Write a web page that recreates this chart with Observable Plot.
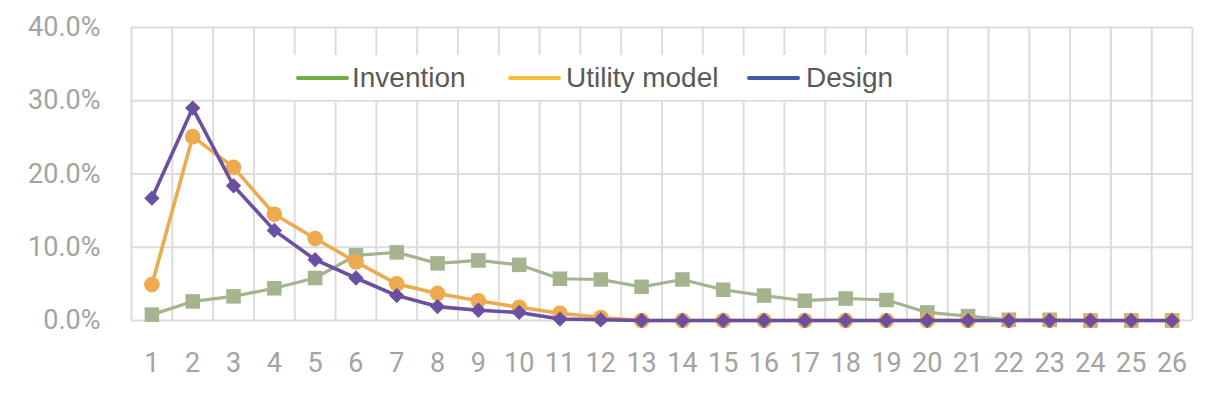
<!DOCTYPE html>
<html>
<head>
<meta charset="utf-8">
<script src="https://cdn.jsdelivr.net/npm/d3@7"></script>
<script src="https://cdn.jsdelivr.net/npm/@observablehq/plot@0.6"></script>
<style>
  html, body { margin: 0; padding: 0; background: #fff; }
  #wrap { position: relative; width: 1230px; height: 394px; overflow: hidden; }
  #legend { position: absolute; left: 290px; top: 55px; width: 628px; height: 45px; background: #fff;
            font-family: "Liberation Sans", Arial, sans-serif; font-size: 28px; color: #595959; }
  #legend .sw { position: absolute; top: 21px; height: 4px; border-radius: 2px; }
  #legend .lab { position: absolute; top: 0; line-height: 45px; white-space: nowrap; }
</style>
</head>
<body>
<div id="wrap"></div>
<script>
// ---- data (as fractions) ----
const categories = [1, 2, 3, 4, 5, 6, 7, 8, 9, 10, 11, 12, 13, 14, 15, 16, 17, 18, 19, 20, 21, 22, 23, 24, 25, 26];
const invention = [0.008, 0.026, 0.033, 0.044, 0.058, 0.089, 0.093, 0.078, 0.082, 0.076, 0.057, 0.056, 0.046, 0.056, 0.042, 0.034, 0.027, 0.030, 0.028, 0.011, 0.006, 0.001, 0.001, 0.000, 0.000, 0.000];
const utilityModel = [0.049, 0.251, 0.209, 0.145, 0.112, 0.080, 0.050, 0.037, 0.027, 0.018, 0.010, 0.004, 0.000, 0.000, 0.000, 0.000, 0.000, 0.000, 0.000, 0.000, 0.000, 0.000, 0.000, 0.000, 0.000, 0.000];
const design = [0.167, 0.290, 0.184, 0.123, 0.083, 0.058, 0.034, 0.019, 0.014, 0.011, 0.002, 0.001, 0.000, 0.000, 0.000, 0.000, 0.000, 0.000, 0.000, 0.000, 0.000, 0.000, 0.000, 0.000, 0.000, 0.000];
const yTicks = [0, 0.1, 0.2, 0.3, 0.4];
const seriesNames = ["Invention", "Utility model", "Design"];
const lineColors = ["#a3b48e", "#eeaa4e", "#6a4fa3"];
const legendColors = ["#70ad47", "#f5bd3c", "#3d5aa6"];

const rows = (vals) => categories.map((c, i) => ({ x: c, y: vals[i] }));
const edges = categories.map(c => c - 0.5).concat([categories[categories.length - 1] + 0.5]);

const chart = Plot.plot({
  width: 1230,
  height: 394,
  marginLeft: 131,
  marginRight: 38,
  marginTop: 27,
  marginBottom: 74,
  style: { fontFamily: "Roboto, 'Open Sans', sans-serif", fontSize: "27px", color: "#a6a6a6", background: "#fff" },
  x: { type: "linear", domain: [edges[0], edges[edges.length - 1]] },
  y: { domain: [0, 0.4] },
  marks: [
    Plot.ruleY(yTicks, { stroke: "#dcdcdc", strokeWidth: 2 }),
    Plot.ruleX(edges, { stroke: "#dcdcdc", strokeWidth: 2 }),
    Plot.axisY(yTicks, { tickFormat: d => (d * 100).toFixed(1) + "%", tickSize: 0, tickPadding: 31, label: null, fill: "#a3a3a3" }),
    Plot.axisX(categories, { tickFormat: d => String(d), tickSize: 0, tickPadding: 32, label: null, fill: "#a3a3a3" }),
    Plot.line(rows(invention), { x: "x", y: "y", stroke: lineColors[0], strokeWidth: 3.2 }),
    Plot.dot(rows(invention), { x: "x", y: "y", symbol: "square", r: 8.2, fill: lineColors[0] }),
    Plot.line(rows(utilityModel), { x: "x", y: "y", stroke: lineColors[1], strokeWidth: 3.6 }),
    Plot.dot(rows(utilityModel), { x: "x", y: "y", symbol: "circle", r: 7.8, fill: lineColors[1] }),
    Plot.line(rows(design), { x: "x", y: "y", stroke: lineColors[2], strokeWidth: 3.6 }),
    Plot.dot(rows(design), { x: "x", y: "y", symbol: "diamond2", r: 6.9, fill: lineColors[2] })
  ]
});

const wrap = document.getElementById("wrap");
wrap.appendChild(chart);

// legend overlaid on the plot
const legend = document.createElement("div");
legend.id = "legend";
const swLeft = [6, 218, 457];
const labLeft = [62, 276, 516];
seriesNames.forEach((name, i) => {
  const sw = document.createElement("div");
  sw.className = "sw";
  sw.style.left = swLeft[i] + "px";
  sw.style.width = "53px";
  sw.style.background = legendColors[i];
  legend.appendChild(sw);
  const lab = document.createElement("span");
  lab.className = "lab";
  lab.style.left = labLeft[i] + "px";
  lab.textContent = name;
  legend.appendChild(lab);
});
wrap.appendChild(legend);
</script>
</body>
</html>
